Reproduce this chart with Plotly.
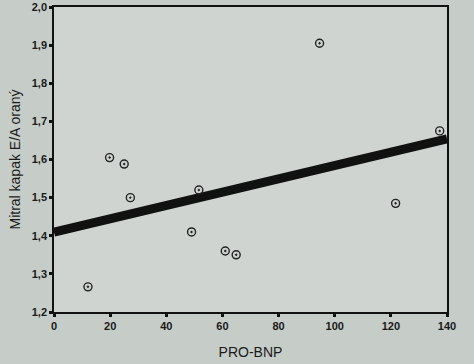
import numpy as np
import plotly.graph_objects as go

# Data
pro_bnp = [12.1, 19.8, 25.0, 27.2, 51.6, 49.0, 61.0, 64.9, 94.6, 121.7, 137.4]
ea_ratio = [1.266, 1.605, 1.588, 1.500, 1.520, 1.410, 1.360, 1.350, 1.905, 1.485, 1.675]

x_tick_vals = [0, 20, 40, 60, 80, 100, 120, 140]
x_tick_text = ["0", "20", "40", "60", "80", "100", "120", "140"]
y_tick_vals = [1.2, 1.3, 1.4, 1.5, 1.6, 1.7, 1.8, 1.9, 2.0]
y_tick_text = ["1,2", "1,3", "1,4", "1,5", "1,6", "1,7", "1,8", "1,9", "2,0"]

# Linear fit line computed from the data
slope, intercept = np.polyfit(pro_bnp, ea_ratio, 1)
fit_x = [0, 140]
fit_y = [intercept + slope * v for v in fit_x]

fig = go.Figure()
fig.add_trace(go.Scatter(
    x=fit_x, y=fit_y, mode="lines",
    line=dict(color="#111111", width=9),
    hoverinfo="skip", showlegend=False,
))
fig.add_trace(go.Scatter(
    x=pro_bnp, y=ea_ratio, mode="markers",
    marker=dict(symbol="circle-dot", size=8, color="rgba(0,0,0,0)",
                line=dict(color="#222222", width=1.4)),
    showlegend=False,
))

fam = "Liberation Sans, Arial, sans-serif"
bg = "#c6ccc8"
fig.update_layout(
    width=474, height=364,
    margin=dict(l=54, r=27, t=7, b=52),
    paper_bgcolor=bg,
    plot_bgcolor="#cfd4d1",
    showlegend=False,
    xaxis=dict(
        range=[0, 140], tickvals=x_tick_vals, ticktext=x_tick_text,
        showgrid=False, zeroline=False, automargin=False,
        showline=True, linecolor="#111111", linewidth=1.5, mirror=True,
        ticks="outside", ticklen=3, tickwidth=3, tickcolor="#111111",
        tickfont=dict(family=fam, size=11, color="#1a1a1a", weight="bold"),
        title=dict(text="PRO-BNP", font=dict(family=fam, size=14, color="#1a1a1a"), standoff=16),
    ),
    yaxis=dict(
        range=[1.2, 2.0], tickvals=y_tick_vals, ticktext=y_tick_text,
        showgrid=False, zeroline=False, automargin=False,
        showline=True, linecolor="#111111", linewidth=1.5, mirror=True,
        ticks="outside", ticklen=3, tickwidth=3, tickcolor="#111111",
        tickfont=dict(family=fam, size=11, color="#1a1a1a", weight="bold"),
        title=dict(text="Mitral kapak E/A oraný", font=dict(family=fam, size=14, color="#1a1a1a"), standoff=8),
    ),
)

post = ("document.body.style.margin='0';document.body.style.padding='0';"
        "document.body.style.overflow='hidden';document.body.style.background='%s';" % bg)
fig.write_html("out.html", post_script=post, config={"displayModeBar": False})
